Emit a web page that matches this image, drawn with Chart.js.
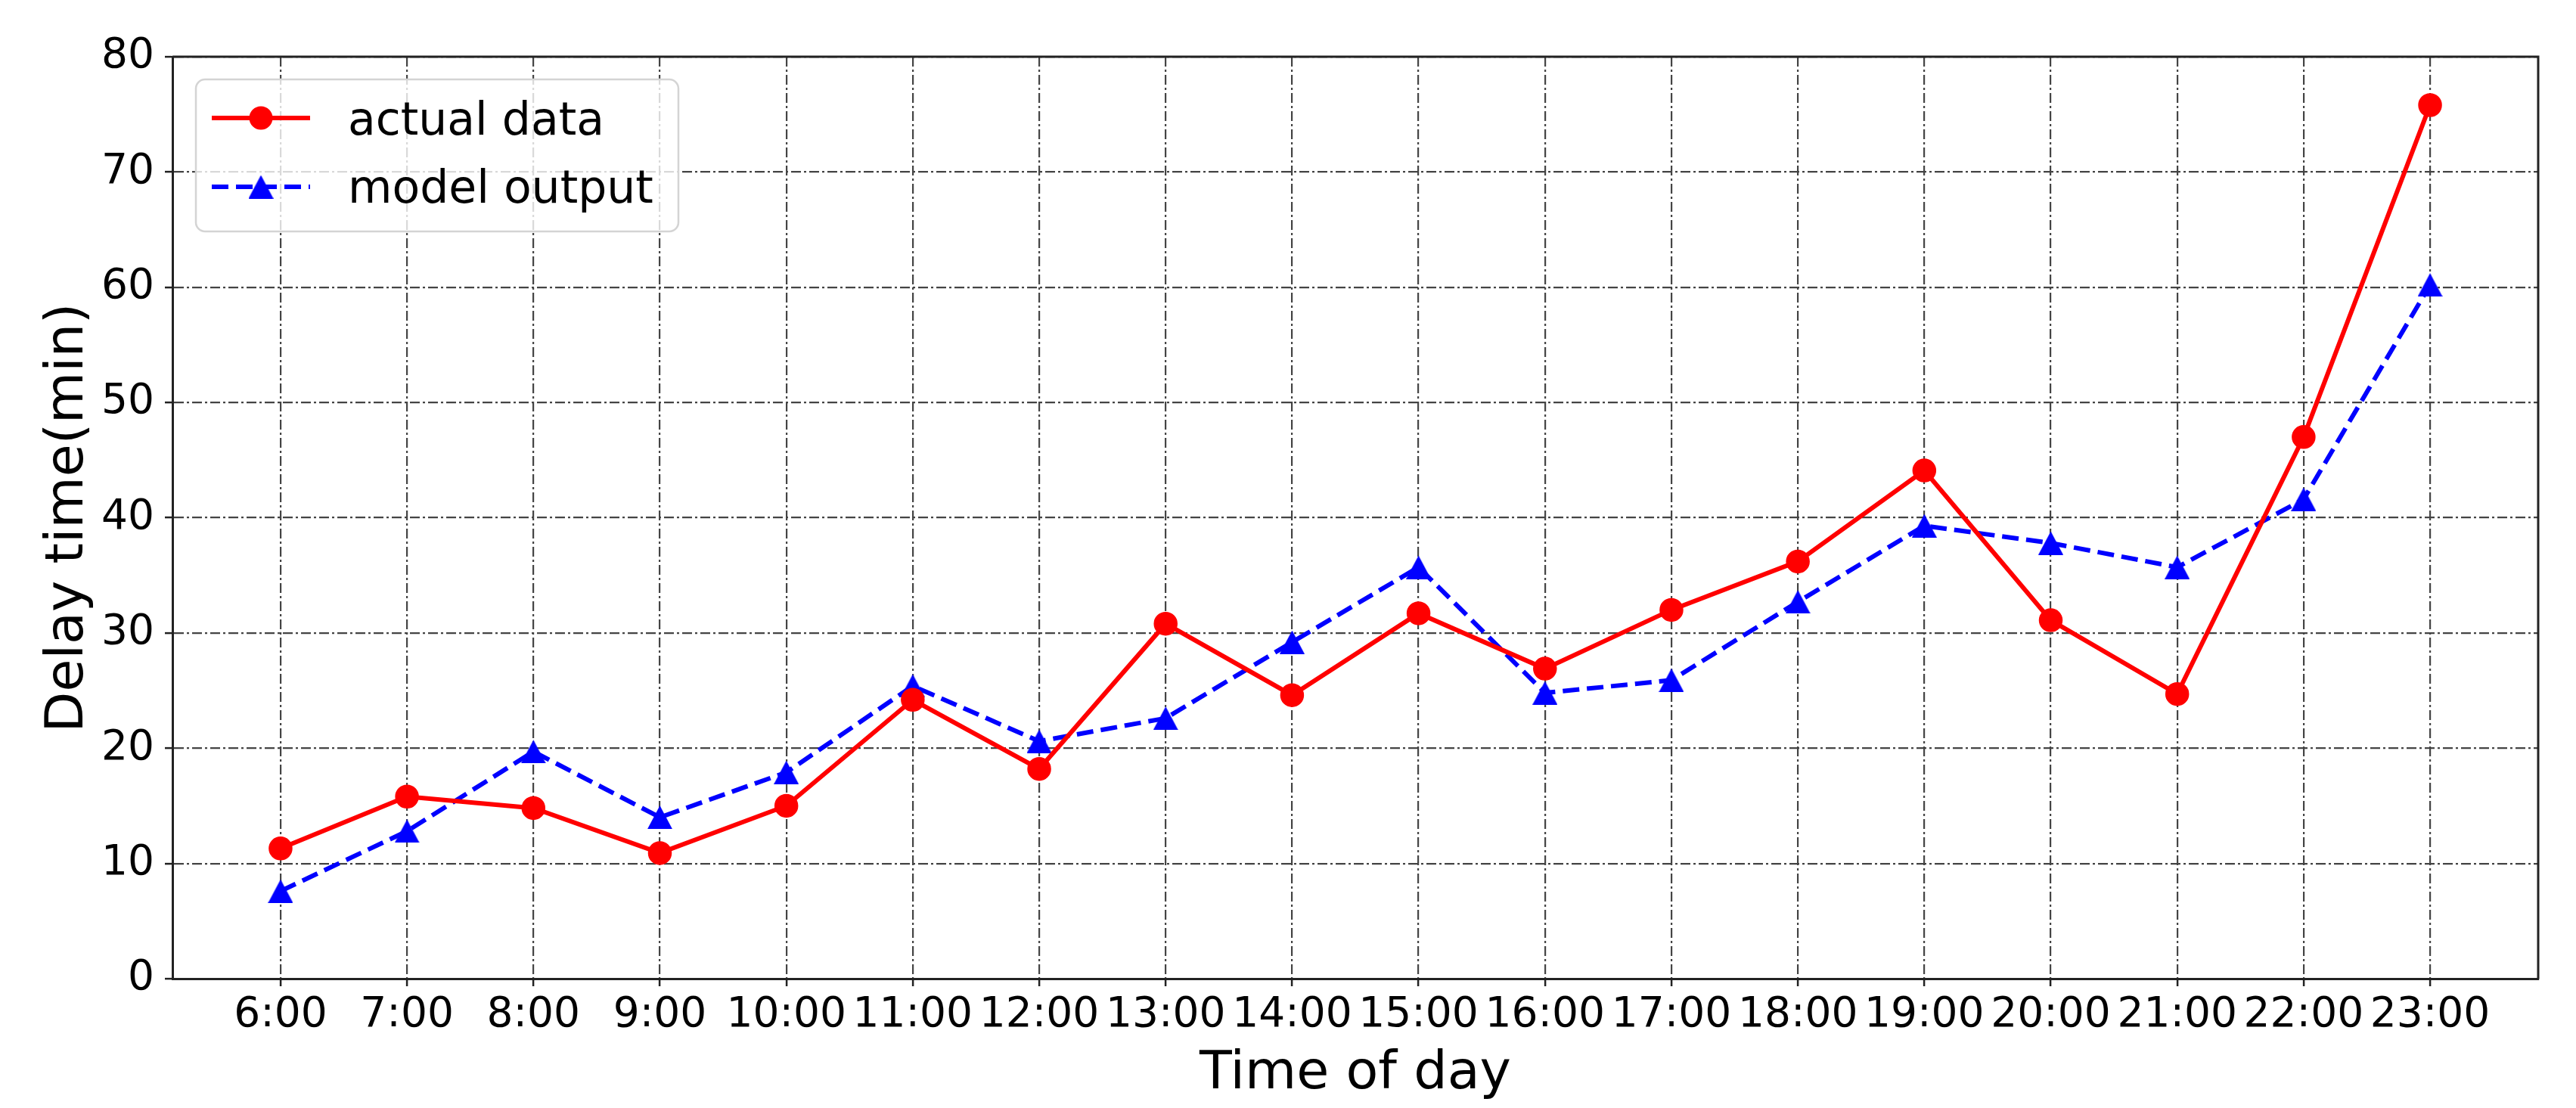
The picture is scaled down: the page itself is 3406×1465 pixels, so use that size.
<!DOCTYPE html>
<html>
<head>
<meta charset="utf-8">
<title>Delay time by time of day</title>
<script src="https://cdn.jsdelivr.net/npm/chart.js@4.4.1/dist/chart.umd.min.js"></script>
<style>
    html, body { margin: 0; padding: 0; background: #fff; }
    #wrap { width: 3406px; height: 1465px; }
</style>
</head>
<body>
<div id="wrap"><canvas id="delayChart" width="3406" height="1465"></canvas></div>
<script>
// Delay time chart: actual data vs model output

const hours = ['6:00', '7:00', '8:00', '9:00', '10:00', '11:00', '12:00', '13:00', '14:00',
    '15:00', '16:00', '17:00', '18:00', '19:00', '20:00', '21:00', '22:00', '23:00'];
const actualData = [11.3, 15.8, 14.8, 10.9, 15.0, 24.2, 18.2, 30.8, 24.6,
    31.7, 26.9, 32.0, 36.2, 44.1, 31.1, 24.7, 47.0, 75.8];
const modelOutput = [7.6, 12.8, 19.7, 14.0, 17.9, 25.4, 20.6, 22.6, 29.2,
    35.7, 24.8, 25.9, 32.7, 39.3, 37.8, 35.7, 41.6, 60.2];
const yTicks = [0, 10, 20, 30, 40, 50, 60, 70, 80];

(function() {
    'use strict';

    const FONT = "'DejaVu Sans', sans-serif";
    const GRID = '#444';
    const AXIS = '#222';

    // matplotlib style '^' marker: triangle centred on its bounding box
    function makeTriangle(w, h, color) {
        const c = document.createElement('canvas');
        c.width = w;
        c.height = h;
        const g = c.getContext('2d');
        g.fillStyle = color;
        g.beginPath();
        g.moveTo(w / 2, 0);
        g.lineTo(w, h);
        g.lineTo(0, h);
        g.closePath();
        g.fill();
        return c;
    }

    const triangle = makeTriangle(33, 31, '#0000ff');

    function toPoints(values) {
        return values.map(function(v, i) { return { x: i, y: v }; });
    }

    // top/right spines + legend box in the upper left corner
    const framePlugin = {
        id: 'frameAndLegend',
        afterDatasetsDraw: function(chart) {
            const ctx = chart.ctx;
            const a = chart.chartArea;
            ctx.save();
            ctx.strokeStyle = AXIS;
            ctx.lineWidth = 3;
            ctx.beginPath();
            ctx.moveTo(a.left, a.top);
            ctx.lineTo(a.right, a.top);
            ctx.lineTo(a.right, a.bottom);
            ctx.stroke();

            // legend
            const bx = a.left + 31, by = a.top + 30, bw = 638, bh = 201, r = 12;
            ctx.beginPath();
            ctx.roundRect(bx, by, bw, bh, r);
            ctx.fillStyle = 'rgba(255,255,255,0.8)';
            ctx.fill();
            ctx.strokeStyle = '#d4d4d4';
            ctx.lineWidth = 2.5;
            ctx.stroke();

            const rows = [
                { y: by + 51, base: by + 73, ds: chart.data.datasets[0] },
                { y: by + 142, base: by + 163, ds: chart.data.datasets[1] }
            ];
            rows.forEach(function(row) {
                const ds = row.ds;
                ctx.strokeStyle = ds.borderColor;
                ctx.lineWidth = ds.borderWidth;
                ctx.setLineDash(ds.borderDash || []);
                ctx.beginPath();
                ctx.moveTo(bx + 21, row.y);
                ctx.lineTo(bx + 151, row.y);
                ctx.stroke();
                ctx.setLineDash([]);
                if (ds.pointStyle === 'circle') {
                    ctx.fillStyle = ds.pointBackgroundColor;
                    ctx.beginPath();
                    ctx.arc(bx + 86, row.y, ds.pointRadius + 0.5, 0, Math.PI * 2);
                    ctx.fill();
                } else {
                    const img = ds.pointStyle;
                    ctx.drawImage(img, bx + 86 - img.width / 2, row.y - img.height / 2);
                }
                ctx.fillStyle = '#000';
                ctx.font = '60px ' + FONT;
                ctx.textBaseline = 'alphabetic';
                ctx.textAlign = 'left';
                ctx.fillText(ds.label, bx + 201, row.base);
            });
            ctx.restore();
        }
    };

    function initDelayChart() {
        const ctx = document.getElementById('delayChart');
        if (!ctx) return;

        const delayData = {
            datasets: [{
                label: 'actual data',
                data: toPoints(actualData),
                borderColor: '#ff0000',
                backgroundColor: '#ff0000',
                borderWidth: 6,
                pointStyle: 'circle',
                pointRadius: 15,
                pointBackgroundColor: '#ff0000',
                pointBorderColor: '#ff0000',
                pointBorderWidth: 1.5,
                tension: 0
            }, {
                label: 'model output',
                data: toPoints(modelOutput),
                borderColor: '#0000ff',
                backgroundColor: '#0000ff',
                borderWidth: 6,
                borderDash: [22, 10],
                pointStyle: triangle,
                pointRadius: 16,
                tension: 0
            }]
        };

        const delayConfig = {
            type: 'line',
            data: delayData,
            plugins: [framePlugin],
            options: {
                responsive: false,
                animation: false,
                devicePixelRatio: 1,
                layout: {
                    padding: { left: 0, top: 75, right: 50, bottom: 0 }
                },
                plugins: {
                    legend: { display: false },
                    tooltip: { enabled: false }
                },
                scales: {
                    x: {
                        type: 'linear',
                        min: -0.855,
                        max: 17.855,
                        afterFit: function(scale) { scale.height = 171; },
                        border: { display: true, color: AXIS, width: 3, dash: [13, 4, 3, 4] },
                        grid: {
                            color: GRID,
                            lineWidth: 2.2,
                            drawTicks: true,
                            tickLength: 10,
                            tickColor: AXIS,
                            tickWidth: 2.5
                        },
                        ticks: {
                            stepSize: 1,
                            includeBounds: false,
                            autoSkip: false,
                            maxRotation: 0,
                            padding: 6,
                            color: '#000',
                            font: { family: FONT, size: 55 },
                            callback: function(value) { return hours[value]; }
                        },
                        title: {
                            display: true,
                            text: 'Time of day',
                            color: '#000',
                            font: { family: FONT, size: 70 },
                            padding: { top: 0, bottom: 2 }
                        }
                    },
                    y: {
                        min: yTicks[0],
                        max: yTicks[yTicks.length - 1],
                        afterFit: function(scale) { scale.width = 228; },
                        afterBuildTicks: function(scale) {
                            scale.ticks = yTicks.map(function(v) { return { value: v }; });
                        },
                        border: { display: true, color: AXIS, width: 3, dash: [13, 4, 3, 4] },
                        grid: {
                            color: GRID,
                            lineWidth: 2.2,
                            drawTicks: true,
                            tickLength: 10,
                            tickColor: AXIS,
                            tickWidth: 2.5
                        },
                        ticks: {
                            padding: 14,
                            color: '#000',
                            font: { family: FONT, size: 55 }
                        },
                        title: {
                            display: true,
                            text: 'Delay time(min)',
                            color: '#000',
                            font: { family: FONT, size: 70 },
                            padding: { top: 49, bottom: 0 }
                        }
                    }
                }
            }
        };

        new Chart(ctx, delayConfig);
    }

    document.addEventListener('DOMContentLoaded', initDelayChart);
})();
</script>
</body>
</html>
